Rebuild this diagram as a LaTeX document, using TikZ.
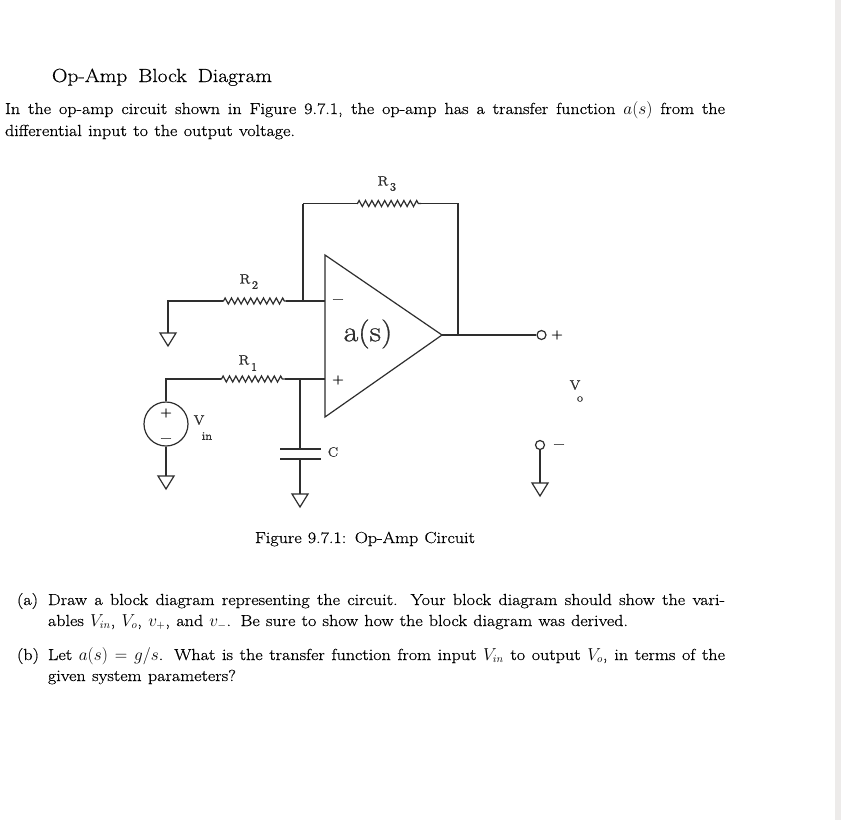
\documentclass[tikz,border=0pt]{standalone}
\usepackage{fontspec}
\setmainfont{Latin Modern Roman}
\usetikzlibrary{decorations.pathmorphing}
\definecolor{ink}{HTML}{2E2E2E}
\definecolor{strip}{HTML}{EDEBEA}
\newfontfamily\bodyfont{Latin Modern Roman}[FakeBold=0.5,FakeStretch=1.13]
\newfontfamily\labfont{Latin Modern Roman}[FakeBold=0.9,FakeStretch=1.1]
\tikzset{
  wire/.style={draw=ink,line width=1.2pt,line join=miter},
  res/.style={wire,decorate,decoration={zigzag,amplitude=3pt,segment length=6.4pt,pre length=0.5pt,post length=0.5pt}},
  para/.style={anchor=base west,inner sep=0pt,outer sep=0pt,text=black,font=\fontsize{16}{18}\bodyfont},
  lab/.style={inner sep=0pt,outer sep=0pt,text=ink,font=\fontsize{13.5}{15}\labfont},
  sublab/.style={inner sep=0pt,outer sep=0pt,text=ink,font=\fontsize{11.5}{13}\labfont},
  sign/.style={inner sep=0pt,outer sep=0pt,text=ink,font=\fontsize{14}{15}\labfont},
  term/.style={circle,draw=ink,line width=1.2pt,minimum size=9pt,inner sep=0pt,fill=white},
  gnd/.pic={\draw[wire] (-8,0) -- (8,0) -- (0,13) -- cycle;}
}
\newcommand{\fitline}[2]{\makebox[#1pt][s]{#2}}
\begin{document}
\begin{tikzpicture}[x=1pt,y=-1pt]
\useasboundingbox (0,0) rectangle (841,820);
\fill[white] (0,0) rectangle (841,820);
\fill[strip] (835,0) rectangle (841,820);

% text
\node[para,font=\fontsize{19}{21}\bodyfont] (title) at (52,82) {\fitline{220}{Op-Amp Block Diagram}};
\node[para] (p1) at (5,114) {\fitline{720}{In the op-amp circuit shown in Figure 9.7.1, the op-amp has a transfer function $a(s)$ from the}};
\node[para] (p2) at (5,136) {\fitline{290}{differential input to the output voltage.}};
\node[para] (cap) at (255,543) {\fitline{220}{Figure 9.7.1: Op-Amp Circuit}};
\node[para] (al) at (17,605) {(a)};
\node[para] (a1) at (48,605) {\fitline{677}{Draw a block diagram representing the circuit. Your block diagram should show the vari-}};
\node[para] (a2) at (48,626) {\fitline{580}{ables $V_{in}$, $V_{o}$, $v_{+}$, and $v_{-}$. Be sure to show how the block diagram was derived.}};
\node[para] (bl) at (17,660) {(b)};
\node[para] (b1) at (48,660) {\fitline{677}{Let $a(s)=g/s$. What is the transfer function from input $V_{in}$ to output $V_{o}$, in terms of the}};
\node[para] (b2) at (48,681) {\fitline{188}{given system parameters?}};

% op-amp
\coordinate (top) at (325,255);
\coordinate (bot) at (325,417);
\coordinate (apex) at (442,335);
\draw[wire] (top) -- (apex) -- (bot) -- cycle;
\node[inner sep=0pt,text=ink,font=\fontsize{29}{32}\labfont] (gain) at (368,334) {a(s)};
\node[sign] (minus) at (338,301) {\textminus};
\node[sign] (plus) at (338,380) {+};

% coordinates
\coordinate (fbl) at (303,203.5);
\coordinate (r3a) at (357,203.5);
\coordinate (r3b) at (421,203.5);
\coordinate (fbr) at (458,203.5);
\coordinate (jout) at (458,335);
\coordinate (jm) at (303,301);
\coordinate (inm) at (325,301);
\coordinate (r2a) at (223,301);
\coordinate (r2b) at (286,301);
\coordinate (g2c) at (168,301);
\coordinate (g2) at (168,333);
\coordinate (inp) at (325,379);
\coordinate (jp) at (300,379);
\coordinate (r1a) at (221,379);
\coordinate (r1b) at (285,379);
\coordinate (vc) at (166,379);
\coordinate (capa) at (300,449);
\coordinate (capb) at (300,459);
\coordinate (capal) at (280,449);
\coordinate (capar) at (321,449);
\coordinate (capbl) at (280,459);
\coordinate (capbr) at (321,459);
\coordinate (g3) at (300,494);
\coordinate (g1) at (166,476);
\coordinate (g4) at (540,483);

% nodes
\node[circle,draw=ink,line width=1.2pt,minimum size=44pt,inner sep=0pt] (src) at (166,424) {};
\node[term] (outp) at (541.5,335) {};
\node[term] (outm) at (540,445) {};

% connectors
\draw[wire] (fbl) -- (r3a);
\draw[res] (r3a) -- (r3b);
\draw[wire] (r3b) -- (fbr) -- (jout);
\draw[wire] (jm) -- (fbl);
\draw[wire] (g2) -- (g2c) -- (r2a);
\draw[res] (r2a) -- (r2b);
\draw[wire] (r2b) -- (inm);
\draw[wire] (src.north) -- (vc) -- (r1a);
\draw[res] (r1a) -- (r1b);
\draw[wire] (r1b) -- (inp);
\draw[wire] (jp) -- (capa);
\draw[wire] (capal) -- (capar);
\draw[wire] (capbl) -- (capbr);
\draw[wire] (capb) -- (g3);
\draw[wire] (src.south) -- (g1);
\draw[wire] (apex) -- (outp);
\draw[wire] (outm) -- (g4);

% grounds
\pic at (g2) {gnd};
\pic at (g1) {gnd};
\pic at (g3) {gnd};
\pic at (g4) {gnd};

% labels
\node[lab] (lr3) at (383,181) {R};
\node[sublab] (lr3s) at (393,187) {3};
\node[lab] (lr2) at (245,279) {R};
\node[sublab] (lr2s) at (255,285) {2};
\node[lab] (lr1) at (244,360) {R};
\node[sublab] (lr1s) at (254,367) {1};
\node[lab] (lc) at (333,452) {C};
\node[sign] (sp) at (166,413) {+};
\node[sign] (sm) at (166,440) {\textminus};
\node[lab] (lv) at (199,420) {V};
\node[sublab] (lvs) at (207,436) {in};
\node[sign] (op) at (557,335) {+};
\node[sign] (om) at (559,446) {\textminus};
\node[lab] (lo) at (575,385) {V};
\node[sublab] (los) at (580,399) {o};
\end{tikzpicture}
\end{document}
